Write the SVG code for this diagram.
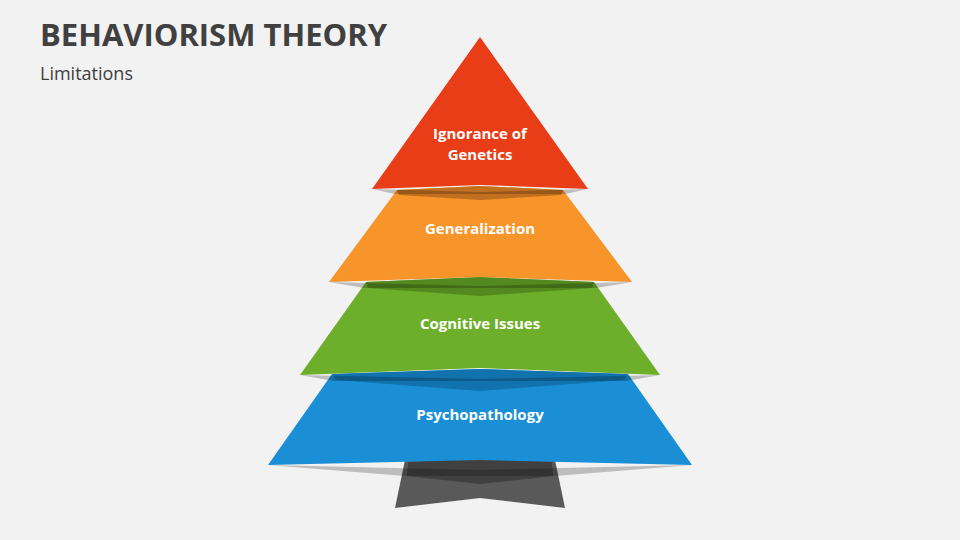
<svg xmlns="http://www.w3.org/2000/svg" width="960" height="540" viewBox="0 0 960 540">
<style>
.t{font-family:"Open Sans","Liberation Sans",sans-serif;font-weight:bold;font-size:15px;fill:#fff;text-anchor:middle}
.sh{fill:#000;opacity:0.22}
</style>
<rect width="960" height="540" fill="#f2f2f2"/>
<text x="40" y="46" font-family="Open Sans,Liberation Sans,sans-serif" font-weight="bold" font-size="31" fill="#404040">BEHAVIORISM THEORY</text>
<text x="40" y="80" font-family="Open Sans,Liberation Sans,sans-serif" font-size="18" fill="#404040">Limitations</text>
<g id="base">
<path d="M405,460 L480,458 L555,460 L565,508 L480,498 L395,508 Z" fill="#595959"/>
<path d="M408,462 L480,458 L552,462 L553,476 L480,484 L407,476 Z" fill="#404040"/>
</g>
<g id="tier4">
<path d="M268,465 L480,470 L692,465 L555,476 L405,476 Z" class="sh"/>
<path d="M332,374 L480,369 L628,374 L692,465 L480,460 L268,465 Z" fill="#1a8fd6"/>
<path d="M332,374 L480,369 L628,374 L624,380 L480,391 L336,380 Z" fill="#0f6aa3" opacity="0.8"/>
<text class="t" x="480" y="420">Psychopathology</text>
</g>
<g id="tier3">
<path d="M300,375 L480,379 L660,375 L626,381 L334,381 Z" class="sh"/>
<path d="M366,282 L480,277 L594,282 L660,375 L480,368 L300,375 Z" fill="#6daf2a"/>
<path d="M366,282 L480,277 L594,282 L592,288 L480,296 L368,288 Z" fill="#4e7f1e" opacity="0.8"/>
<text class="t" x="480" y="329">Cognitive Issues</text>
</g>
<g id="tier2">
<path d="M329,282 L480,286 L632,282 L596,288 L364,288 Z" class="sh"/>
<path d="M397,190 L480,186 L563,190 L632,282 L480,277 L329,282 Z" fill="#f7952a"/>
<path d="M397,190 L480,186 L563,190 L561,195 L480,200 L399,195 Z" fill="#b86a1e" opacity="0.85"/>
<text class="t" x="480" y="234">Generalization</text>
</g>
<g id="tier1">
<path d="M372,189 L480,192 L588,189 L565,194 L395,194 Z" class="sh"/>
<path d="M480,37 L588,189 L480,185 L372,189 Z" fill="#e83d17"/>
<text class="t" x="480" y="139">Ignorance of</text>
<text class="t" x="480" y="160">Genetics</text>
</g>
<g id="connectors"/>
</svg>
